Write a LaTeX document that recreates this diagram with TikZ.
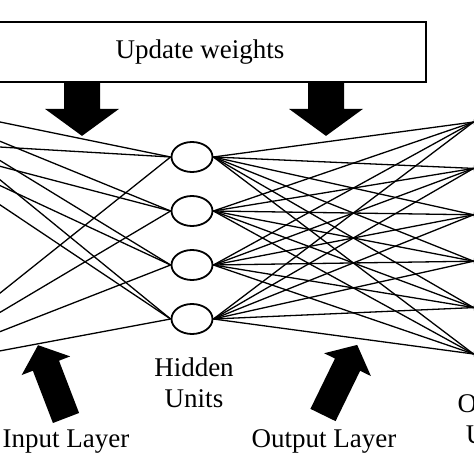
\documentclass[tikz,border=0pt]{standalone}
\usepackage{fontspec}
\setmainfont{Liberation Serif}
\usetikzlibrary{shapes.geometric,positioning}

\begin{document}
\begin{tikzpicture}[
        x=1pt, y=1pt,
        unit/.style={ellipse, draw=black, line width=1.8pt, minimum width=41pt, minimum height=30pt, inner sep=0pt},
        link/.style={line width=1.3pt},
        txt/.style={font=\fontsize{27}{31}\selectfont, inner sep=0pt},
        pics/downarrow/.style={code={\fill (-18,0) -- (-18,-26) -- (-37,-26) -- (0,-53) -- (37,-26) -- (18,-26) -- (18,0) -- cycle;}},
        pics/uparrow/.style={code={\fill (-14,0) -- (-14,56) -- (-26,56) -- (0,78) -- (26,56) -- (14,56) -- (14,0) -- cycle;}}
    ]
    \useasboundingbox (0,0) rectangle (474,474);
    \clip (0,0) rectangle (474,474);

    % Update box
    \node[txt, draw, line width=1.8pt, minimum width=452pt, minimum height=60pt] (upd) at (200,422) {Update weights};

    % Units
    \foreach \i/\y in {1/371.4, 2/332.5, 3/105.4}
        \node[unit] (i\i) at (-116,\y) {};
    \foreach \i/\y in {1/317, 2/263, 3/209, 4/155}
        \node[unit] (h\i) at (192,\y) {};
    \foreach \i/\y in {1/352, 2/305.6, 3/259.2, 4/212.8, 5/166.4, 6/120}
        \node[unit] (o\i) at (495,\y) {};

    % Weights
    \foreach \i in {1,2,3}
        \foreach \j in {1,...,4}
            \draw[link] (i\i.east) -- (h\j.west);
    \foreach \j in {1,...,4}
        \foreach \k in {1,...,6}
            \draw[link] (h\j.east) -- (o\k.west);

    % Arrows
    \pic at ([xshift=-118pt]upd.south) {downarrow};
    \pic at ([xshift=126pt]upd.south) {downarrow};
    \pic[rotate=21] at (66,56) {uparrow};
    \pic[rotate=-26] at (323,59) {uparrow};

    % Labels
    \node[txt, align=center, anchor=north] (hidlab) at (194,116) {Hidden\\Units};
    \node[txt, align=center, anchor=north] (outlab) at (495,80) {Output\\Units};
    \node[txt, anchor=base] (inlay) at (66,27) {Input Layer};
    \node[txt, anchor=base] (outlay) at (324,27) {Output Layer};

\end{tikzpicture}
\end{document}
